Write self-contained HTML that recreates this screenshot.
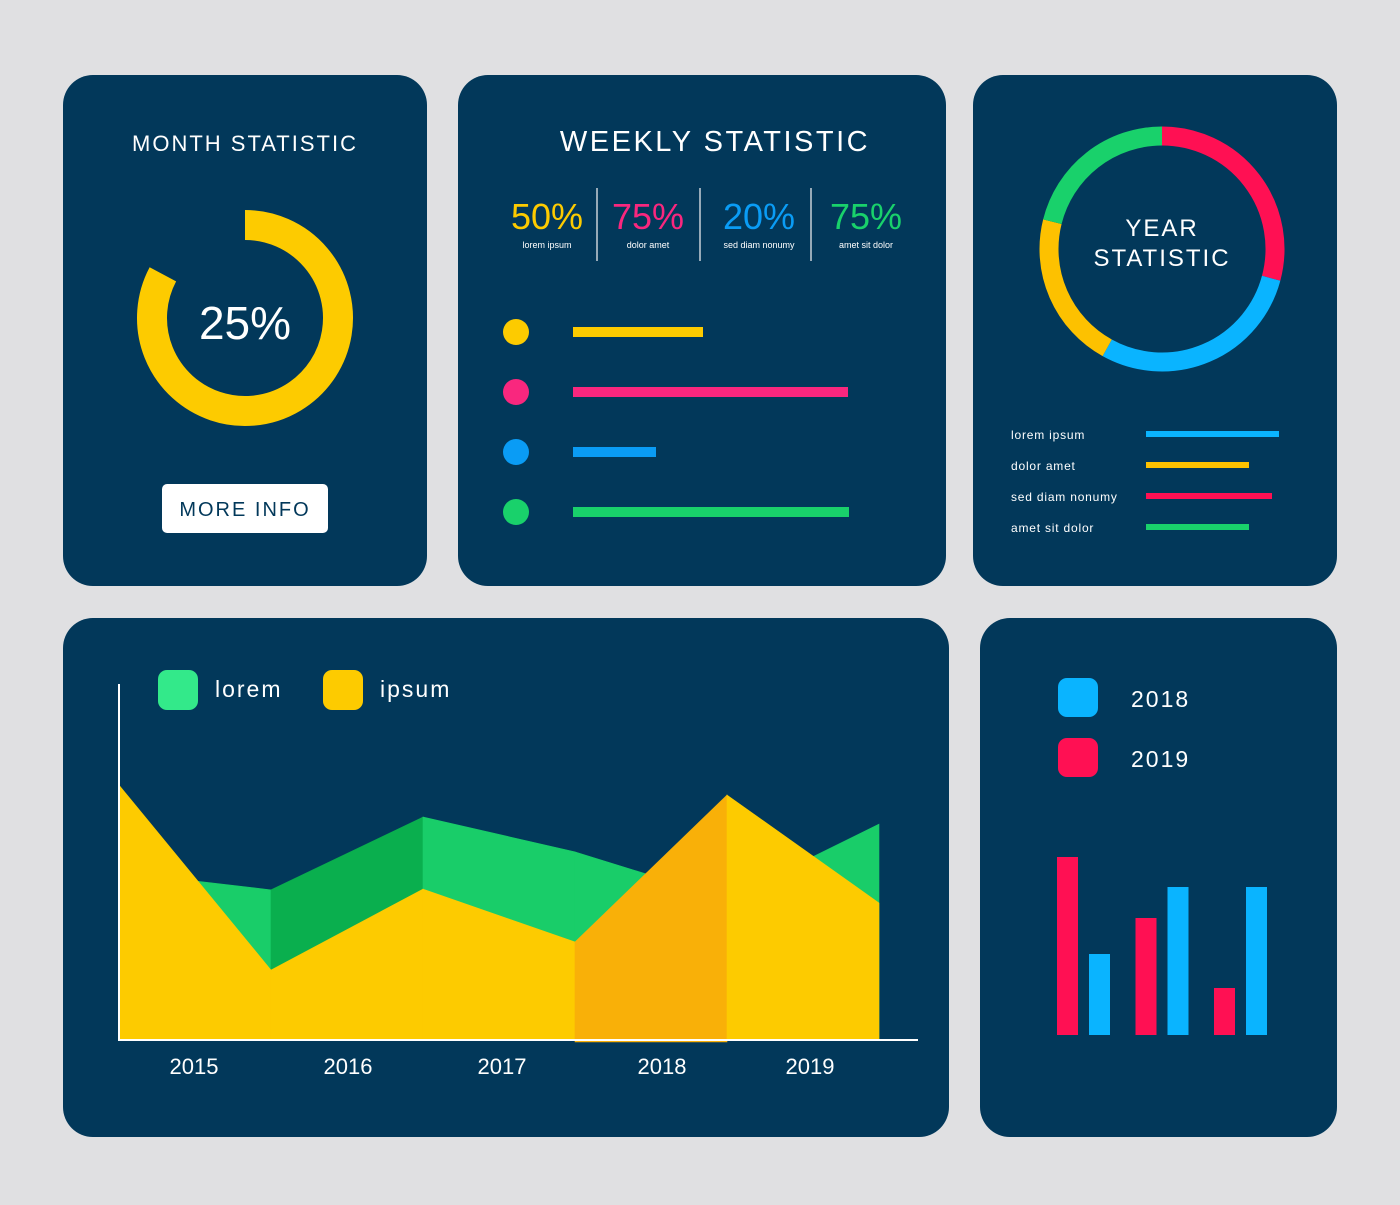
<!DOCTYPE html>
<html><head><meta charset="utf-8">
<style>
body{margin:0;width:1400px;height:1200px;background:#e0e0e2;font-family:"Liberation Sans",sans-serif;overflow:hidden}
svg text{font-family:"Liberation Sans",sans-serif}
</style></head>
<body>
<svg id="s" width="1400" height="1200" xmlns="http://www.w3.org/2000/svg">
<rect x="0" y="0" width="1400" height="1200" fill="#e0e0e2"/>
<rect x="63" y="75" width="364" height="511" rx="30" fill="#02385a"/>
<rect x="458" y="75" width="488" height="511" rx="30" fill="#02385a"/>
<rect x="973" y="75" width="364" height="511" rx="30" fill="#02385a"/>
<rect x="63" y="618" width="886" height="519" rx="30" fill="#02385a"/>
<rect x="980" y="618" width="357" height="519" rx="30" fill="#02385a"/>

<text x="245" y="151" fill="#fff" font-size="22" letter-spacing="2" text-anchor="middle">MONTH STATISTIC</text>
<g id="month"></g>
<text x="245" y="339" fill="#fff" font-size="46" text-anchor="middle">25%</text>
<g>
<rect x="162" y="484" width="166" height="49" rx="5" fill="#fff"/>
<text x="245" y="516" fill="#02385a" font-size="20" letter-spacing="2" text-anchor="middle">MORE INFO</text>
</g>

<text x="715" y="151" fill="#fff" font-size="29" letter-spacing="2.5" text-anchor="middle">WEEKLY STATISTIC</text>
<g id="weekly"></g>

<g id="year"></g>
<text x="1162" y="236" fill="#fff" font-size="24" letter-spacing="2" text-anchor="middle">YEAR</text>
<text x="1162" y="266" fill="#fff" font-size="24" letter-spacing="2" text-anchor="middle">STATISTIC</text>
<g id="yearlegend"></g>

<g id="area"></g>
<g id="bars"></g>
</svg>
<script>
const NS='http://www.w3.org/2000/svg';
function mk(p,tag,attrs,txt){const e=document.createElementNS(NS,tag);for(const k in attrs)e.setAttribute(k,attrs[k]);if(txt!==undefined)e.textContent=txt;p.appendChild(e);return e;}
function arcPath(cx,cy,r,a0,a1){const f=a=>[cx+r*Math.sin(a*Math.PI/180),cy-r*Math.cos(a*Math.PI/180)];const p0=f(a0),p1=f(a1);return `M${p0[0]} ${p0[1]} A${r} ${r} 0 ${a1-a0>180?1:0} 1 ${p1[0]} ${p1[1]}`;}

// month donut
const monthArc=[0,298];
(function(){const g=document.getElementById('month');
const e=mk(g,'path',{d:arcPath(245,318,93,monthArc[0],monthArc[1]),fill:'none',stroke:'#fdcb00','stroke-width':30});
})();

// weekly
const weekPct=['50%','75%','20%','75%'];
const weekLabels=['lorem ipsum','dolor amet','sed diam nonumy','amet sit dolor'];
const weekColors=['#fdcb00','#f9277e','#0a9cf5','#19d16b'];
const weekBars=[130,275,83,276];
(function(){const g=document.getElementById('weekly');
const cx=[547,648,759,866];
weekPct.forEach((p,i)=>{
 const t=mk(g,'text',{x:cx[i],y:229,fill:weekColors[i],'font-size':36,'text-anchor':'middle'},p);
 
 const l=mk(g,'text',{x:cx[i],y:248,fill:'#fff','font-size':9,'text-anchor':'middle'},weekLabels[i]);
 
});
[597,700,811].forEach(x=>{const d=mk(g,'line',{x1:x,y1:188,x2:x,y2:261,stroke:'#c8d0d8','stroke-width':1.5});
 });
weekBars.forEach((v,i)=>{const y=332+i*60;
 const c=mk(g,'circle',{cx:516,cy:y,r:13,fill:weekColors[i]});
 
 const b=mk(g,'rect',{x:573,y:y-5,width:v,height:10,fill:weekColors[i]});
 
});})();

// year donut
const yearSegments=[105,104,75,76];
const yearColors=['#ff1053','#0ab4ff','#fdc100','#19d16b'];
(function(){const g=document.getElementById('year');let a=0;
yearSegments.forEach((v,i)=>{const e=mk(g,'path',{d:arcPath(1162,249,113,a,a+v),fill:'none',stroke:yearColors[i],'stroke-width':19});
 a+=v;});})();
const yearLegendLabels=['lorem ipsum','dolor amet','sed diam nonumy','amet sit dolor'];
const yearLegendValues=[133,103,126,103];
const yearLegendColors=['#0ab4ff','#fdc100','#ff1053','#19d16b'];
(function(){const g=document.getElementById('yearlegend');
yearLegendLabels.forEach((l,i)=>{const y=434+i*31;
 const t=mk(g,'text',{x:1011,y:y+5,fill:'#fff','font-size':12,'letter-spacing':0.8},l);
 
 const r=mk(g,'rect',{x:1146,y:y-3,width:yearLegendValues[i],height:6,fill:yearLegendColors[i]});
 
});})();

// area chart
const areaYears=['2015','2016','2017','2018','2019'];
const loremValues=[47.3,42.3,62.8,53.0,39.7,60.8];
const ipsumValues=[71.8,19.7,42.5,27.6,69.0,38.6];
(function(){const g=document.getElementById('area');
const x0=119,x1=879,yb=1040,yt=685;
const X=i=>x0+(x1-x0)*i/(loremValues.length-1);
const Y=v=>yb-(yb-yt)*v/100;
const greenCols=['#19cd69','#0aaf4e','#19cd69','#19cd69','#19cd69'];
const yellowCols=['#fdcb00','#fdcb00','#fdcb00','#f9b008','#fdcb00'];
for(let i=0;i<loremValues.length-1;i++){
 const p=mk(g,'polygon',{points:`${X(i)},${yb} ${X(i)},${Y(loremValues[i])} ${X(i+1)},${Y(loremValues[i+1])} ${X(i+1)},${yb}`,fill:greenCols[i],stroke:greenCols[i],'stroke-width':0.6});
 
}
for(let i=0;i<ipsumValues.length-1;i++){
 const p=mk(g,'polygon',{points:`${X(i)},${yb+(i==3?2:0)} ${X(i)},${Y(ipsumValues[i])} ${X(i+1)},${Y(ipsumValues[i+1])} ${X(i+1)},${yb+(i==3?2:0)}`,fill:yellowCols[i],stroke:yellowCols[i],'stroke-width':0.6});
 
}
const ya=mk(g,'line',{x1:119,y1:684,x2:119,y2:1040,stroke:'#fff','stroke-width':2});

const xa=mk(g,'line',{x1:118,y1:1040,x2:918,y2:1040,stroke:'#fff','stroke-width':2});

const tx=[194,348,502,662,810];
areaYears.forEach((t,i)=>{const e=mk(g,'text',{x:tx[i],y:1074,fill:'#fff','font-size':22,'text-anchor':'middle'},t);
 });
const lg=[['lorem','#33e98a',158,215],['ipsum','#fdcb00',323,380]];
lg.forEach(l=>{const r=mk(g,'rect',{x:l[2],y:670,width:40,height:40,rx:9,fill:l[1]});
 
 const t=mk(g,'text',{x:l[3],y:697,fill:'#fff','font-size':23,'letter-spacing':2},l[0]);
 });
})();

// bar chart
const barGroups=['A','B','C'];
const bars2019=[178,117,47];
const bars2018=[81,148,148];
(function(){const g=document.getElementById('bars');
const base=1035;
barGroups.forEach((c,i)=>{const gx=1057+i*78.5;
 const r=mk(g,'rect',{x:gx,y:base-bars2019[i],width:21,height:bars2019[i],fill:'#ff1053'});
 
 const b=mk(g,'rect',{x:gx+32,y:base-bars2018[i],width:21,height:bars2018[i],fill:'#0ab4ff'});
 
});
[['2018','#0ab4ff',678],['2019','#ff1053',738]].forEach(l=>{
 const r=mk(g,'rect',{x:1058,y:l[2],width:40,height:39,rx:9,fill:l[1]});
 
 const t=mk(g,'text',{x:1131,y:l[2]+29,fill:'#fff','font-size':23,'letter-spacing':2},l[0]);
 });
})();
</script>
</body></html>
